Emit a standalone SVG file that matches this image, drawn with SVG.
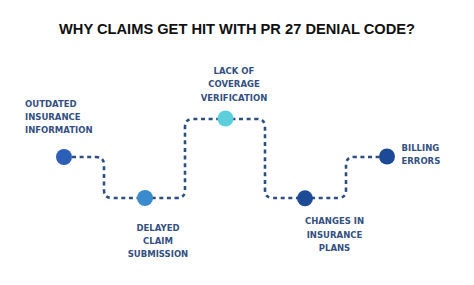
<svg xmlns="http://www.w3.org/2000/svg" width="474" height="285" viewBox="0 0 474 285">
<style>
.title{font-family:"Liberation Sans",Arial,sans-serif;font-weight:700;font-size:15.5px;fill:#111111}
.lbl{font-family:"DejaVu Sans",sans-serif;font-weight:700;font-size:8.5px;fill:#33507f}
.conn{fill:none;stroke:#2e4d80;stroke-width:2.6;stroke-dasharray:4 3.6}
</style>
<rect width="474" height="285" fill="#ffffff"/>
<text class="title" x="237" y="34" text-anchor="middle" textLength="356" lengthAdjust="spacingAndGlyphs">WHY CLAIMS GET HIT WITH PR 27 DENIAL CODE?</text>
<g id="connectors">
<path class="conn" d="M72,157 H96 Q104,157 104,165 V190 Q104,198 112,198 H177 Q185,198 185,190 V127 Q185,119 193,119 H257 Q265,119 265,127 V190 Q265,198 273,198 H338 Q346,198 346,190 V165 Q346,157 354,157 H380"/>
</g>
<g id="node-outdated">
<circle cx="64" cy="157" r="8" fill="#2b5fb8"/>
<text class="lbl" x="25"><tspan x="25" y="106.5">OUTDATED</tspan><tspan x="25" y="119.5">INSURANCE</tspan><tspan x="25" y="132.5">INFORMATION</tspan></text>
</g>
<g id="node-delayed">
<circle cx="145" cy="198" r="8" fill="#3a8bcb"/>
<text class="lbl" text-anchor="middle"><tspan x="158" y="231">DELAYED</tspan><tspan x="158" y="244">CLAIM</tspan><tspan x="158" y="257">SUBMISSION</tspan></text>
</g>
<g id="node-coverage">
<circle cx="225.5" cy="118.5" r="8" fill="#5ccfdc"/>
<text class="lbl" text-anchor="middle"><tspan x="234" y="74">LACK OF</tspan><tspan x="234" y="87.3">COVERAGE</tspan><tspan x="234" y="100.7">VERIFICATION</tspan></text>
</g>
<g id="node-changes">
<circle cx="305" cy="198.3" r="8" fill="#1d4b95"/>
<text class="lbl" text-anchor="middle"><tspan x="334.5" y="224.3">CHANGES IN</tspan><tspan x="334.5" y="238">INSURANCE</tspan><tspan x="334.5" y="251">PLANS</tspan></text>
</g>
<g id="node-billing">
<circle cx="387" cy="156.5" r="8" fill="#1c4a96"/>
<text class="lbl"><tspan x="401.5" y="150.7">BILLING</tspan><tspan x="401.5" y="164">ERRORS</tspan></text>
</g>
</svg>
